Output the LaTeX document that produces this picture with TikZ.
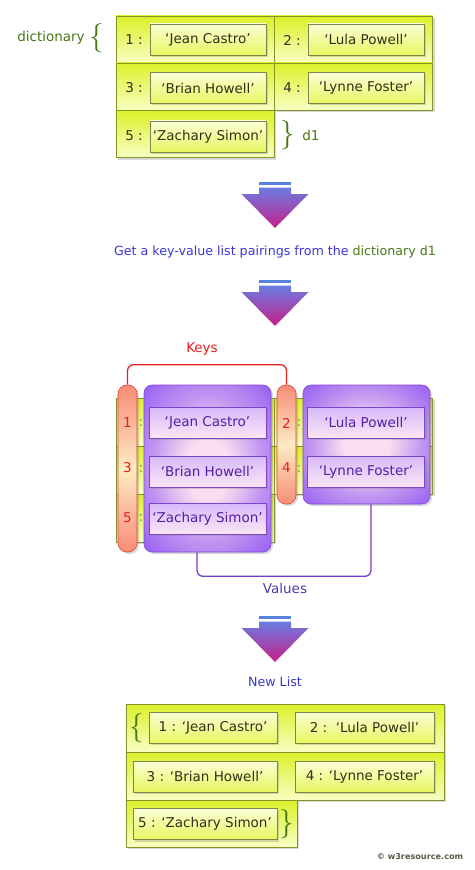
\documentclass[tikz,border=0pt]{standalone}
\usepackage{fontspec}
\setmainfont{DejaVu Sans}
\usetikzlibrary{shadows, positioning}
\definecolor{cellline}{RGB}{130,150,40}
\definecolor{celltop}{RGB}{220,240,40}
\definecolor{cellbot}{RGB}{248,255,195}
\definecolor{itemline}{RGB}{125,135,75}
\definecolor{itemtop}{RGB}{250,255,215}
\definecolor{itembot}{RGB}{232,246,95}
\definecolor{ink}{RGB}{45,50,25}
\definecolor{dictgreen}{RGB}{70,120,20}
\definecolor{capblue}{RGB}{55,55,210}
\definecolor{arrowtop}{RGB}{105,125,225}
\definecolor{arrowtip}{RGB}{200,30,140}
\definecolor{barblue}{RGB}{90,130,225}
\definecolor{pillline}{RGB}{215,70,50}
\definecolor{pillend}{RGB}{248,140,120}
\definecolor{pillmid}{RGB}{253,235,195}
\definecolor{keyred}{RGB}{230,30,30}
\definecolor{boxline}{RGB}{130,70,210}
\definecolor{boxedge}{RGB}{155,100,242}
\definecolor{boxmid}{RGB}{248,222,240}
\definecolor{vitemline}{RGB}{125,70,200}
\definecolor{vitemtop}{RGB}{215,185,250}
\definecolor{vitembot}{RGB}{250,230,245}
\definecolor{vink}{RGB}{85,30,165}
\definecolor{valpurple}{RGB}{80,55,170}
\definecolor{valline}{RGB}{115,60,200}
\pgfdeclareradialshading{valglow}{\pgfpoint{0bp}{0bp}}{color(0bp)=(boxmid); color(9bp)=(boxmid); color(22bp)=(boxedge!60!boxmid); color(34bp)=(boxedge); color(50bp)=(boxedge)}
\def\arrowbody{(-16,5.5) -- (16,5.5) -- (16,12) -- (33.5,12) -- (0,46) -- (-33.5,12) -- (-16,12) -- cycle}
\def\arrowbar{(-16,0) rectangle (16,3)}
\tikzset{
    boxshadow/.style={drop shadow={shadow xshift=0.5mm, shadow yshift=-0.5mm, opacity=0.3}},
    cell/.style={draw=cellline, top color=celltop, bottom color=cellbot, minimum width=39.5mm, minimum height=11.75mm, inner sep=0pt, boxshadow},
    item/.style={draw=itemline, top color=itemtop, bottom color=itembot, minimum width=29mm, minimum height=7.75mm, inner sep=0pt, text=ink, boxshadow},
    keylabel/.style={text=ink, inner sep=0pt},
    colon/.style={text=cellline, inner sep=0pt},
    keypill/.style={draw=pillline, rounded corners=2.2mm, top color=pillend, bottom color=pillend, middle color=pillmid, minimum width=4.75mm, inner sep=0pt, boxshadow},
    keynum/.style={text=keyred, inner sep=0pt},
    valbox/.style={draw=boxline, rounded corners=2mm, shading=valglow, minimum width=31.75mm, inner sep=0pt, boxshadow},
    valitem/.style={draw=vitemline, top color=vitemtop, bottom color=vitembot, minimum width=29.25mm, minimum height=7.75mm, inner sep=0pt, text=vink, boxshadow},
    brk/.style={font=\fontsize{20}{20}\selectfont, text=dictgreen, inner sep=0pt},
    caption/.style={font=\fontsize{9}{11}\selectfont, text=capblue},
}
\begin{document}
\begin{tikzpicture}[x=0.25mm, y=-0.25mm, font=\fontsize{9.6}{11.5}\selectfont]
    \useasboundingbox (0,0) rectangle (474,870);
    % Dizionario d1
    \node[cell] (c1) at (195,39.5) {};
    \node[cell] (c2) at (353.5,39.5) {};
    \node[cell] (c3) at (195,86.5) {};
    \node[cell] (c4) at (353.5,86.5) {};
    \node[cell] (c5) at (195,134) {};
    \node[item] (i1) at (208,39.5) {‘Jean Castro’};
    \node[item] (i2) at (366,39.5) {‘Lula Powell’};
    \node[item] (i3) at (208,88) {‘Brian Howell’};
    \node[item] (i4) at (366,88) {‘Lynne Foster’};
    \node[item] (i5) at (208,136.5) {‘Zachary Simon’};
    \node[keylabel] (l1) at (134,40) {1 :};
    \node[keylabel] (l2) at (292,40) {2 :};
    \node[keylabel] (l3) at (134,88) {3 :};
    \node[keylabel] (l4) at (292,88) {4 :};
    \node[keylabel] (l5) at (134,136) {5 :};
    \node[text=dictgreen] (dict) at (51,38) {dictionary};
    \node[brk] (lb) at (97,38) {$\{$};
    \node[brk] (rb) at (288,135) {$\}$};
    \node[text=dictgreen] (d1) at (311,135) {d1};
    % Prima freccia
    \begin{scope}[shift={(275,182)}]
        \shade[top color=arrowtop, bottom color=arrowtip] \arrowbody;
        \fill[barblue] \arrowbar;
    \end{scope}
    \node[caption] (cap1) at (275,252) {Get a key-value list pairings from the \textcolor{dictgreen}{dictionary d1}};
    % Seconda freccia
    \begin{scope}[shift={(275,280)}]
        \shade[top color=arrowtop, bottom color=arrowtip] \arrowbody;
        \fill[barblue] \arrowbar;
    \end{scope}
    % Chiavi e valori
    \node[cell, minimum height=12mm] (m1) at (195,422) {};
    \node[cell, minimum height=12mm] (m2) at (353.5,422) {};
    \node[cell, minimum height=12mm] (m3) at (195,470) {};
    \node[cell, minimum height=12mm] (m4) at (353.5,470) {};
    \node[cell, minimum height=12mm] (m5) at (195,518) {};
    \node[colon] (s1) at (141,423) {:};
    \node[colon] (s2) at (299,423) {:};
    \node[colon] (s3) at (141,469) {:};
    \node[colon] (s4) at (299,469) {:};
    \node[colon] (s5) at (141,518) {:};
    \node[keypill, minimum height=41.75mm] (k1) at (127.5,468.5) {};
    \node[keypill, minimum height=29.75mm] (k2) at (286.5,444.5) {};
    \node[valbox, minimum height=41.75mm] (v1) at (207.5,468.5) {};
    \node[valbox, minimum height=29.75mm] (v2) at (366.5,444.5) {};
    \node[valitem] (p1) at (207.5,422.5) {‘Jean Castro’};
    \node[valitem] (p2) at (366,422.5) {‘Lula Powell’};
    \node[valitem] (p3) at (207.5,471.5) {‘Brian Howell’};
    \node[valitem] (p4) at (366,471.5) {‘Lynne Foster’};
    \node[valitem] (p5) at (207.5,518.5) {‘Zachary Simon’};
    \node[keynum] (n1) at (127.5,423) {1};
    \node[keynum] (n2) at (286.5,423) {2};
    \node[keynum] (n3) at (127.5,468) {3};
    \node[keynum] (n4) at (286.5,468) {4};
    \node[keynum] (n5) at (127.5,518) {5};
    \node[text=keyred] (keys) at (202,349) {Keys};
    \draw[keyred, line width=0.9pt, rounded corners=1.5mm] (k1.north) -- ++(0,-20) -| (k2.north);
    \node[text=valpurple] (values) at (285,588) {Values};
    \draw[valline, line width=0.9pt, rounded corners=1.5mm] ([xshift=-2.625mm]v1.south) -- ++(0,24) -| ([xshift=1.125mm]v2.south);
    % Terza freccia
    \begin{scope}[shift={(275,616)}]
        \shade[top color=arrowtop, bottom color=arrowtip] \arrowbody;
        \fill[barblue] \arrowbar;
    \end{scope}
    \node[caption] (cap2) at (275,682) {New List};
    % Nuova lista
    \node[cell, minimum width=79.5mm, minimum height=12mm] (b1) at (285,728) {};
    \node[cell, minimum width=79.5mm, minimum height=12mm] (b2) at (285,776) {};
    \node[cell, minimum width=42.75mm] (b3) at (211.5,823.5) {};
    \node[item, minimum width=32mm] (r1) at (213,727.5) {1 : ‘Jean Castro’};
    \node[item, minimum width=34.75mm] (r2) at (364.5,727.5) {2 :\ \ ‘Lula Powell’};
    \node[item, minimum width=36mm] (r3) at (205,776.5) {3 : ‘Brian Howell’};
    \node[item, minimum width=34.75mm] (r4) at (364.5,776.5) {4 : ‘Lynne Foster’};
    \node[item, minimum width=36mm] (r5) at (205,824) {5 : ‘Zachary Simon’};
    \node[brk] (lb2) at (137,728) {$\{$};
    \node[brk] (rb2) at (287,824) {$\}$};
    \node[font=\fontsize{5.8}{7}\selectfont\bfseries, text=ink!80] (mark) at (420,857) {© w3resource.com};
\end{tikzpicture}
\end{document}
